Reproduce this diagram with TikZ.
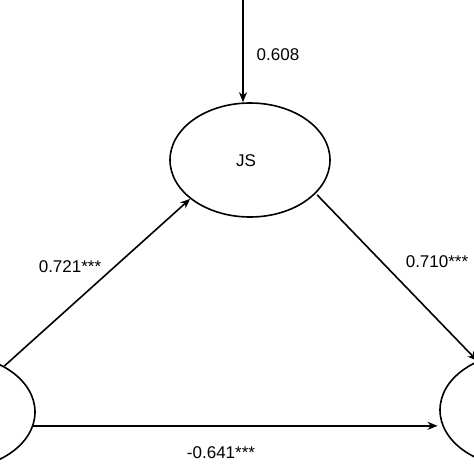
\documentclass[tikz,border=0pt]{standalone}
\usepackage{fontspec}
\setmainfont{Liberation Sans}
\usetikzlibrary{shapes.geometric,arrows.meta,calc}
\begin{document}
\begin{tikzpicture}[x=1pt,y=-1pt,
  latent/.style={draw,ellipse,line width=1.6pt,minimum width=160pt,minimum height=114pt,inner sep=0pt},
  arr/.style={line width=1.6pt,-{Stealth[length=10pt,width=8pt]}},
  lbl/.style={font=\fontsize{17}{20}\selectfont,inner sep=0pt}]
\useasboundingbox[fill=white] (0,0) rectangle (474,474);
\node[latent] (JS) at (250,160) {};
\node[lbl] at (246,161) {JS};
\node[latent] (L) at (-45,412) {};
\node[latent] (R) at (520,410) {};
\coordinate (top) at (243,-2);
\draw[arr] (top) -- (top |- JS.north);
\draw[arr] (L.43) -- (JS.213.7);
\draw[arr,shorten <=2pt] (JS.-27) -- (R.131.6);
\draw[arr,shorten >=4pt] (L.-10) -- (L.-10 -| R.190);
\node[lbl] at (278,55) {0.608};
\node[lbl] at (70,267) {0.721***};
\node[lbl] at (437,262) {0.710***};
\node[lbl] at (221,453) {-0.641***};
\end{tikzpicture}
\end{document}
